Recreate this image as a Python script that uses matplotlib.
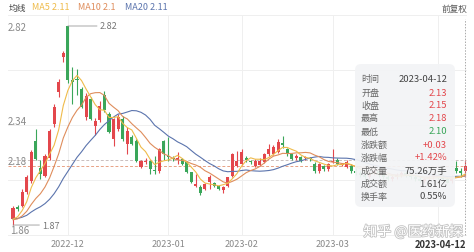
import numpy as np
import pandas as pd
import matplotlib.pyplot as plt
import matplotlib.patheffects as pe
from matplotlib.patches import FancyBboxPatch
from matplotlib.transforms import IdentityTransform

plt.rcParams['font.family'] = ['Noto Sans CJK SC', 'DejaVu Sans']

# daily candles, 2022-11-15 .. 2023-04-12 (100 sessions)
opens = [1.90, 1.955, 1.96, 2.03, 2.08, 2.27, 2.14, 2.105, 2.19, 2.35,
         2.505, 2.672, 2.82, 2.56, 2.565, 2.52, 2.386, 2.47, 2.343, 2.37,
         2.49, 2.40, 2.28, 2.33, 2.376, 2.257, 2.29, 2.271, 2.147, 2.17,
         2.176, 2.13, 2.128, 2.27, 2.20, 2.19, 2.18, 2.185, 2.171, 2.123,
         2.056, 2.051, 2.042, 2.075, 2.07, 2.056, 2.035, 2.056, 2.104, 2.152,
         2.161, 2.19, 2.175, 2.152, 2.155, 2.171, 2.209, 2.209, 2.219, 2.262,
         2.233, 2.209, 2.19, 2.195, 2.19, 2.19, 2.161, 2.128, 2.152, 2.137,
         2.17, 2.18, 2.155, 2.147, 2.152, 2.13, 2.12, 2.11, 2.10, 2.12,
         2.13, 2.11, 2.10, 2.09, 2.10, 2.11, 2.12, 2.11, 2.10, 2.09,
         2.08, 2.09, 2.10, 2.11, 2.10, 2.09, 2.08, 2.14, 2.13, 2.13]
highs = [1.96, 1.965, 2.04, 2.11, 2.23, 2.33, 2.18, 2.21, 2.33, 2.45,
         2.565, 2.70, 2.82, 2.624, 2.615, 2.53, 2.50, 2.48, 2.38, 2.46,
         2.51, 2.41, 2.38, 2.40, 2.39, 2.34, 2.30, 2.28, 2.18, 2.19,
         2.18, 2.20, 2.24, 2.275, 2.29, 2.20, 2.22, 2.19, 2.175, 2.125,
         2.114, 2.06, 2.07, 2.11, 2.075, 2.06, 2.055, 2.10, 2.215, 2.223,
         2.235, 2.20, 2.18, 2.185, 2.19, 2.215, 2.257, 2.25, 2.28, 2.295,
         2.24, 2.215, 2.21, 2.20, 2.20, 2.195, 2.17, 2.165, 2.155, 2.165,
         2.233, 2.19, 2.165, 2.18, 2.16, 2.14, 2.13, 2.12, 2.13, 2.14,
         2.14, 2.12, 2.11, 2.11, 2.12, 2.13, 2.13, 2.12, 2.11, 2.10,
         2.10, 2.11, 2.12, 2.12, 2.11, 2.10, 2.11, 2.176, 2.14, 2.18]
lows = [1.87, 1.935, 1.955, 2.02, 2.07, 2.18, 2.09, 2.10, 2.18, 2.34,
        2.48, 2.648, 2.55, 2.45, 2.49, 2.43, 2.37, 2.37, 2.30, 2.36,
        2.41, 2.31, 2.247, 2.32, 2.27, 2.209, 2.25, 2.17, 2.14, 2.16,
        2.114, 2.114, 2.12, 2.18, 2.176, 2.175, 2.16, 2.155, 2.12, 2.07,
        2.05, 2.015, 2.035, 2.04, 2.05, 2.035, 2.025, 2.05, 2.10, 2.147,
        2.155, 2.17, 2.16, 2.145, 2.15, 2.165, 2.20, 2.205, 2.215, 2.24,
        2.20, 2.18, 2.18, 2.17, 2.18, 2.175, 2.12, 2.12, 2.13, 2.13,
        2.165, 2.155, 2.15, 2.14, 2.12, 2.11, 2.10, 2.09, 2.09, 2.11,
        2.10, 2.09, 2.08, 2.08, 2.09, 2.10, 2.10, 2.09, 2.08, 2.07,
        2.07, 2.08, 2.09, 2.09, 2.08, 2.07, 2.07, 2.12, 2.10, 2.10]
closes = [1.95, 1.945, 2.03, 2.10, 2.22, 2.185, 2.115, 2.20, 2.32, 2.435,
          2.555, 2.69, 2.56, 2.555, 2.56, 2.433, 2.486, 2.376, 2.367, 2.44,
          2.42, 2.314, 2.376, 2.386, 2.281, 2.319, 2.257, 2.176, 2.176, 2.175,
          2.137, 2.128, 2.233, 2.21, 2.195, 2.185, 2.19, 2.16, 2.123, 2.075,
          2.066, 2.023, 2.066, 2.099, 2.056, 2.042, 2.05, 2.099, 2.209, 2.176,
          2.219, 2.18, 2.17, 2.176, 2.175, 2.209, 2.233, 2.242, 2.266, 2.252,
          2.209, 2.185, 2.20, 2.176, 2.195, 2.185, 2.128, 2.161, 2.137, 2.161,
          2.172, 2.161, 2.16, 2.171, 2.128, 2.12, 2.11, 2.10, 2.12, 2.13,
          2.11, 2.10, 2.09, 2.10, 2.11, 2.12, 2.11, 2.10, 2.09, 2.08,
          2.09, 2.10, 2.11, 2.10, 2.09, 2.07, 2.10, 2.13, 2.12, 2.15]
# closes of the 19 sessions before the window, only used to warm up the MAs
prev_close = [1.92, 1.91, 1.92, 1.90, 1.91, 1.89, 1.90, 1.91, 1.90, 1.89,
              1.90, 1.89, 1.88, 1.89, 1.90, 1.89, 1.88, 1.89, 1.88]

month_pos = [12, 34, 50, 70, 93]
month_labels = ['2022-12', '2023-01', '2023-02', '2023-03', '']
last_label = '2023-04-12'
axis_labels = ['2.82', '2.34', '2.18', '1.86']

tip_names = ['时间', '开盘', '收盘', '最高', '最低', '涨跌额', '涨跌幅', '成交量', '成交额', '换手率']
tip_values = ['2023-04-12', '2.13', '2.15', '2.18', '2.10', '+0.03', '+1.42%',
              '75.26万手', '1.61亿', '0.55%']

UP, DOWN = '#e3474c', '#3aa65a'
C_MA5, C_MA10, C_MA20 = '#efbb4a', '#df8d5c', '#5b74ad'
W, H = 474, 253

def P(x, y):
    # pixel (from top-left) -> figure fraction
    return x / W, 1 - y / H

fig = plt.figure(figsize=(W / 100, H / 100), dpi=100)
ax = fig.add_axes([0, 0, 1, 1])
ax.set_axis_off()
# candle i sits at x = 13 + 4.57 i px, price p at y = 27 + (2.82 - p) * 209.5 px
ax.set_xlim(-13 / 4.57, (W - 13) / 4.57)
ax.set_ylim(2.82 - (H - 27) / 209.5, 2.82 + 27 / 209.5)

tf = fig.transFigure
# grid
for gy in [16, 71, 126, 181, 236]:
    ax.plot(*zip(P(8, gy), P(466, gy)), transform=tf, color='#efefef', lw=0.7, zorder=0)
for m in month_pos:
    ax.axvline(m, ymin=1 - 236 / H, ymax=1 - 16 / H, color='#efefef', lw=0.7, zorder=0)

idx = np.arange(len(closes))
o, h, l, c = map(np.array, (opens, highs, lows, closes))
col = np.where(c >= o, UP, DOWN)
ax.vlines(idx, l, h, colors=col, lw=0.8, zorder=2)
body = np.maximum(np.abs(c - o), 0.004)
ax.bar(idx, body, bottom=np.minimum(o, c), width=0.68, color=col, zorder=3)

s = pd.Series(prev_close + closes)
n0 = len(prev_close)
for win, cc in [(20, C_MA20), (10, C_MA10), (5, C_MA5)]:
    ma = s.rolling(win).mean().to_numpy()[n0:]
    ax.plot(idx, ma, color=cc, lw=0.8, zorder=4)

# price lines
ax.axhline(2.18, xmin=8 / W, xmax=466 / W, color='#c9bfbf', lw=0.7, ls=(0, (3, 2)), zorder=1)
ax.axhline(closes[-1], xmin=8 / W, xmax=466 / W, color='#e8a285', lw=0.7, ls=(0, (3, 2)), zorder=1)

# crosshair
ax.axvline(idx[-1], ymin=1 - 236 / H, ymax=1 - 20 / H, color='#aaaaaa', lw=0.7, ls=(0, (1.5, 1.5)), zorder=5)

# max / min markers
imax, imin = int(np.argmax(h)), int(np.argmin(l))
ax.annotate(f'{h[imax]:.2f}', xy=(imax, h[imax]), xytext=(23, 0), textcoords='offset points',
            va='center', ha='left', fontsize=6.5, color='#777777',
            arrowprops=dict(arrowstyle='-', color='#999999', lw=0.6, shrinkA=0, shrinkB=0))
ax.annotate(f'{l[imin]:.2f}', xy=(imin, l[imin]), xytext=(21, 0), textcoords='offset points',
            va='center', ha='left', fontsize=6.5, color='#777777',
            arrowprops=dict(arrowstyle='-', color='#999999', lw=0.6, shrinkA=0, shrinkB=0))

# y labels
for txt, (lx, ly) in zip(axis_labels, [(8, 28), (8, 122), (8, 162), (10, 231)]):
    fig.text(*P(lx, ly), txt, fontsize=7, color='#888888', va='center', ha='left')

# x labels
xt = ax.get_xaxis_transform()
for m, lab in zip(month_pos, month_labels):
    ax.text(m, 1 - 245 / H, lab, transform=xt, fontsize=6.5,
            color='#888888', ha='center', va='center')
fig.text(*P(466, 245), last_label, fontsize=6.8, color='#333333', ha='right', va='center',
         fontweight='bold')

# legend row
fig.text(*P(9, 8), '均线', fontsize=6.3, color='#444444', va='center')
fig.text(*P(32, 8), 'MA5 2.11', fontsize=6.5, color=C_MA5, va='center')
fig.text(*P(78, 8), 'MA10 2.1', fontsize=6.5, color=C_MA10, va='center')
fig.text(*P(125, 8), 'MA20 2.11', fontsize=6.5, color=C_MA20, va='center')
fig.text(*P(467, 9), '前复权', fontsize=6.2, color='#555555', va='center', ha='right')

# tooltip
box = FancyBboxPatch((355, H - 208), 100, 143, boxstyle='round,pad=0,rounding_size=6',
                     transform=IdentityTransform(), facecolor='#f3f4f6', edgecolor='none',
                     alpha=0.93, zorder=8)
fig.patches.append(box)
val_colors = ['#444444', UP, UP, UP, DOWN, UP, UP, '#444444', '#444444', '#444444']
for k, (nm, vl) in enumerate(zip(tip_names, tip_values)):
    yy = 80 + 13 * k
    fig.text(*P(361, yy), nm, fontsize=6.5, color='#666666', va='center', ha='left', zorder=9)
    fig.text(*P(447, yy), vl, fontsize=6.8, color=val_colors[k], va='center', ha='right', zorder=9)

# watermark
fig.text(*P(463, 233), '知乎 @医药新探', fontsize=10, color='white', ha='right', va='center',
         zorder=10, path_effects=[pe.withStroke(linewidth=1.2, foreground='#c4c4c4')])

fig.savefig('out.png', dpi=100)
